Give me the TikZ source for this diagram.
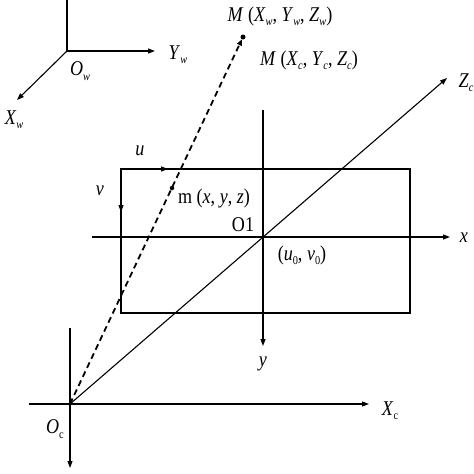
\documentclass[tikz,border=0pt]{standalone}
\usepackage{fontspec}
\setmainfont{Liberation Serif}[FakeStretch=0.86]
\usetikzlibrary{arrows.meta}
\newcommand\sbs[1]{\raisebox{-0.45ex}{\fontsize{12}{13}\selectfont #1}}
\begin{document}
\begin{tikzpicture}[x=1pt,y=-1pt,
  axis/.style={line width=1.1pt,-{Triangle[length=7pt,width=5pt]}},
  plain/.style={line width=1.1pt},
  lbl/.style={inner sep=0pt,font=\fontsize{21}{24}\selectfont},
  dot/.style={circle,fill=black,inner sep=0pt,minimum size=5pt}]
\useasboundingbox (0,0) rectangle (474,474);
% world frame
\coordinate (Ow) at (67,51);
\coordinate (Owtop) at (67,0);
\coordinate (Ywtip) at (155,51);
\coordinate (Xwtip) at (17,100);
\draw[plain] (Ow) -- (Owtop);
\draw[axis] (Ow) -- (Ywtip);
\draw[axis] (Ow) -- (Xwtip);
\node[lbl] (lYw) at (178,55) {\textit{Y}\sbs{\textit{w}}};
\node[lbl] (lOw) at (80,71) {\textit{O}\sbs{\textit{w}}};
\node[lbl] (lXw) at (14,120) {\textit{X}\sbs{\textit{w}}};
% camera frame
\coordinate (Oc) at (70,404);
\coordinate (Octop) at (70,328);
\coordinate (Ocbot) at (70,468);
\coordinate (Xcstart) at (29,404);
\coordinate (Xctip) at (369,404);
\coordinate (Zctip) at (447,78);
\draw[plain] (Octop) -- (Oc);
\draw[axis] (Oc) -- (Ocbot);
\draw[axis] (Xcstart) -- (Xctip);
\draw[axis] (Oc) -- (Zctip);
\node[lbl] (lXc) at (390,411) {\textit{X}\sbs{c}};
\node[lbl] (lOc) at (55,429) {\textit{O}\sbs{c}};
\node[lbl] (lZc) at (466,83) {\textit{Z}\sbs{\textit{c}}};
% image plane
\coordinate (TL) at (121,169);
\coordinate (BR) at (410,313);
\draw[plain] (TL) rectangle (BR);
\coordinate (xstart) at (92,237);
\coordinate (xtip) at (450,237);
\coordinate (ystart) at (263,110);
\coordinate (ytip) at (263,346);
\draw[axis] (xstart) -- (xtip);
\draw[axis] (ystart) -- (ytip);
\coordinate (O1) at (263,237);
\coordinate (utip) at (168,169);
\coordinate (vtip) at (121,212);
\draw[axis] (TL) -- (utip);
\draw[axis] (TL) -- (vtip);
\node[lbl] (lx) at (464,238) {\textit{x}};
\node[lbl] (ly) at (263,364) {\textit{y}};
\node[lbl] (lu) at (140,151) {\textit{u}};
\node[lbl] (lv) at (100,191) {\textit{v}};
\node[lbl] (lO1) at (243,225) {O1};
\node[lbl] (luv) at (302,255) {(\textit{u}\sbs{0}, \textit{v}\sbs{0})};
% projection ray
\node[dot] (M) at (243,37) {};
\node[dot,minimum size=4.5pt] (m) at (172,188) {};
\draw[line width=1.8pt,dash pattern=on 6pt off 4pt,-{Triangle[length=6pt,width=5pt]}] (Oc) -- (M);
\node[lbl] (lMw) at (280,16) {\textit{M} (\textit{X}\sbs{\textit{w}}, \textit{Y}\sbs{\textit{w}}, \textit{Z}\sbs{\textit{w}})};
\node[lbl] (lMc) at (309,60) {\textit{M} (\textit{X}\sbs{\textit{c}}, \textit{Y}\sbs{\textit{c}}, \textit{Z}\sbs{\textit{c}})};
\node[lbl] (lm) at (214,198) {m (\textit{x}, \textit{y}, \textit{z})};
\end{tikzpicture}
\end{document}
